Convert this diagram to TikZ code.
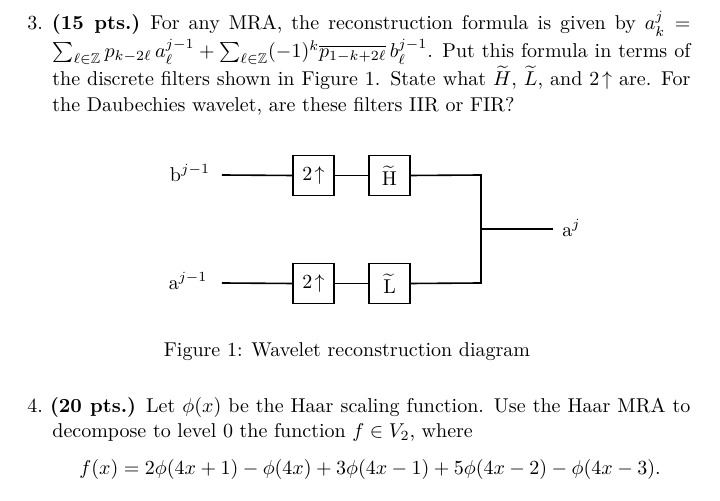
\documentclass[tikz,border=0pt]{standalone}
\usepackage{amsmath,amssymb}
\begin{document}
\begin{tikzpicture}[x=0.5pt,y=-0.5pt,
  jline/.style={anchor=base west,inner sep=0pt},
  lline/.style={anchor=base west,inner sep=0pt},
  blk/.style={draw,thick,minimum width=41*0.5pt,minimum height=40*0.5pt,inner sep=0pt},
  wire/.style={thick}]
\useasboundingbox (0,0) rectangle (720,501);
\node[jline] (l1) at (27,30) {\hbox to 331.5pt{3.~\textbf{(15 pts.)}\enspace For any MRA, the reconstruction formula is given by $a_k^j=$}};
\node[jline] (l2) at (52,58) {\hbox to 319pt{$\sum_{\ell\in\mathbb{Z}}p_{k-2\ell}\,a_\ell^{j-1}+\sum_{\ell\in\mathbb{Z}}(-1)^k\overline{p_{1-k+2\ell}}\,b_\ell^{j-1}$. Put this formula in terms of}};
\node[jline] (l3) at (52,86) {\hbox to 319pt{the discrete filters shown in Figure 1. State what $\widetilde{H}$, $\widetilde{L}$, and $2\!\uparrow$ are. For}};
\node[lline] (l4) at (52,112) {the Daubechies wavelet, are these filters IIR or FIR?};
% diagram
\node (bl) at (190,173) {$\mathrm{b}^{j-1}$};
\node (al) at (188,281) {$\mathrm{a}^{j-1}$};
\coordinate (bs) at (222,175);
\coordinate (as) at (222,283);
\node[blk] (u1) at (313.5,175.5) {$2\!\uparrow$};
\node[blk] (h) at (389.5,175.5) {$\widetilde{\mathrm{H}}$};
\node[blk] (u2) at (313.5,283.5) {$2\!\uparrow$};
\node[blk] (lo) at (389.5,283.5) {$\widetilde{\mathrm{L}}$};
\coordinate (jt) at (481,175);
\coordinate (jb) at (481,283);
\coordinate (jm) at (481,229);
\coordinate (out) at (553,229);
\node[anchor=west] (aj) at (555,228) {$\mathrm{a}^{j}$};
\draw[wire] (bs) -- (u1.west);
\draw[wire] (u1.east) -- (h.west);
\draw[wire] (h.east) -- (jt) -- (jb) -- (lo.east);
\draw[wire] (as) -- (u2.west);
\draw[wire] (u2.east) -- (lo.west);
\draw[wire] (jm) -- (out);
\node (cap) at (347,352) {Figure 1: Wavelet reconstruction diagram};
\node[jline] (m1) at (27,413) {\hbox to 331.5pt{4.~\textbf{(20 pts.)}\enspace Let $\phi(x)$ be the Haar scaling function. Use the Haar MRA to}};
\node[lline] (m2) at (52,438) {decompose to level 0 the function $f\in V_2$, where};
\node (fx) at (370,470) {$f(x)=2\phi(4x+1)-\phi(4x)+3\phi(4x-1)+5\phi(4x-2)-\phi(4x-3).$};
\end{tikzpicture}
\end{document}
